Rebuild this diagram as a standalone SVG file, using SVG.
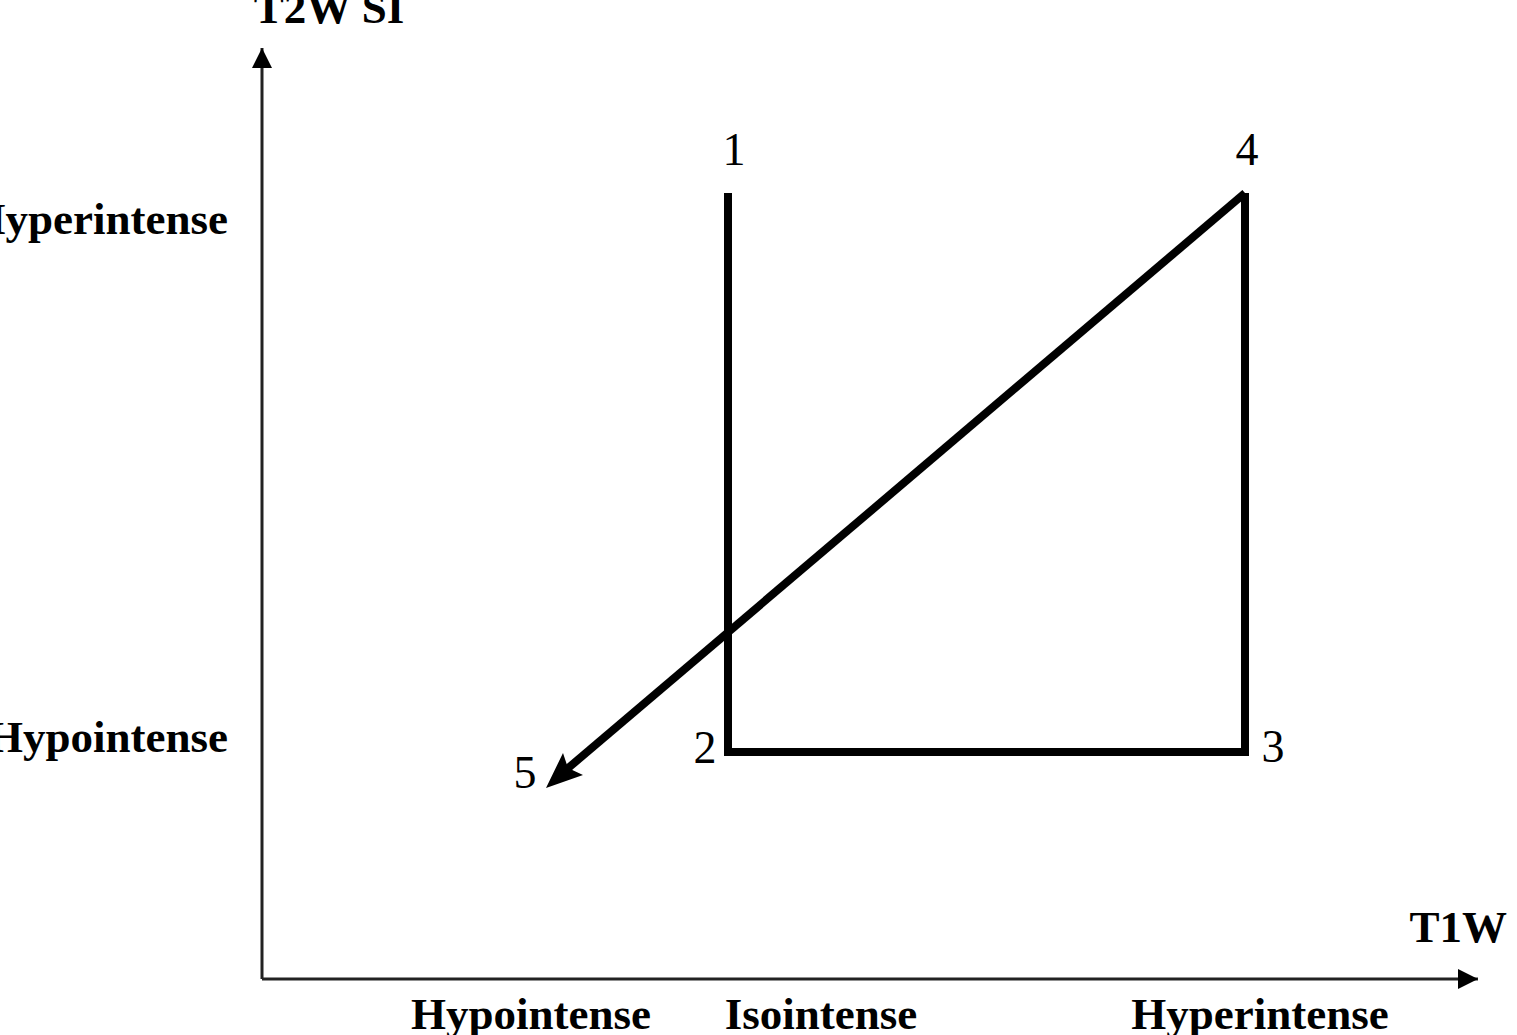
<svg xmlns="http://www.w3.org/2000/svg" width="1517" height="1035" viewBox="0 0 1517 1035">
<style>
.lbl{font-family:"Liberation Serif","Times New Roman",serif;font-weight:bold;font-size:45px;fill:#000}
.num{font-family:"Liberation Serif","Times New Roman",serif;font-size:46px;fill:#000}
.axis{stroke:#222;stroke-width:3;fill:none}
.path{stroke:#000;stroke-width:8;fill:none;stroke-linejoin:miter}
</style>
<defs>
<marker id="ax" viewBox="0 0 10 10" refX="10" refY="5" markerWidth="20" markerHeight="20" markerUnits="userSpaceOnUse" orient="auto">
<path d="M0,0 L10,5 L0,10 Z" fill="#000"/>
</marker>
</defs>
<rect width="1517" height="1035" fill="#fff"/>
<g id="axes">
<line class="axis" x1="262" y1="979" x2="262" y2="48" marker-end="url(#ax)"/>
<line class="axis" x1="262" y1="979" x2="1478" y2="979" marker-end="url(#ax)"/>
</g>
<g id="labels">
<text class="lbl" x="329" y="23" text-anchor="middle">T2W SI</text>
<text class="lbl" x="228" y="234" text-anchor="end">Hyperintense</text>
<text class="lbl" x="228" y="752" text-anchor="end">Hypointense</text>
<text class="lbl" x="1507" y="942" text-anchor="end">T1W</text>
<text class="lbl" x="531" y="1029" text-anchor="middle">Hypointense</text>
<text class="lbl" x="821" y="1029" text-anchor="middle">Isointense</text>
<text class="lbl" x="1260" y="1029" text-anchor="middle">Hyperintense</text>
</g>
<g id="connectors">
<polyline class="path" points="728,193 728,752 1245,752 1245,193"/>
<line class="path" x1="1245" y1="193" x2="560" y2="775"/>
<path d="M546,788 L563,753 L568,768 L583,775 Z" fill="#000"/>
</g>
<g id="n1"><text class="num" x="734" y="165" text-anchor="middle">1</text></g>
<g id="n2"><text class="num" x="705" y="763" text-anchor="middle">2</text></g>
<g id="n3"><text class="num" x="1273" y="762" text-anchor="middle">3</text></g>
<g id="n4"><text class="num" x="1247" y="165" text-anchor="middle">4</text></g>
<g id="n5"><text class="num" x="525" y="788" text-anchor="middle">5</text></g>
</svg>
